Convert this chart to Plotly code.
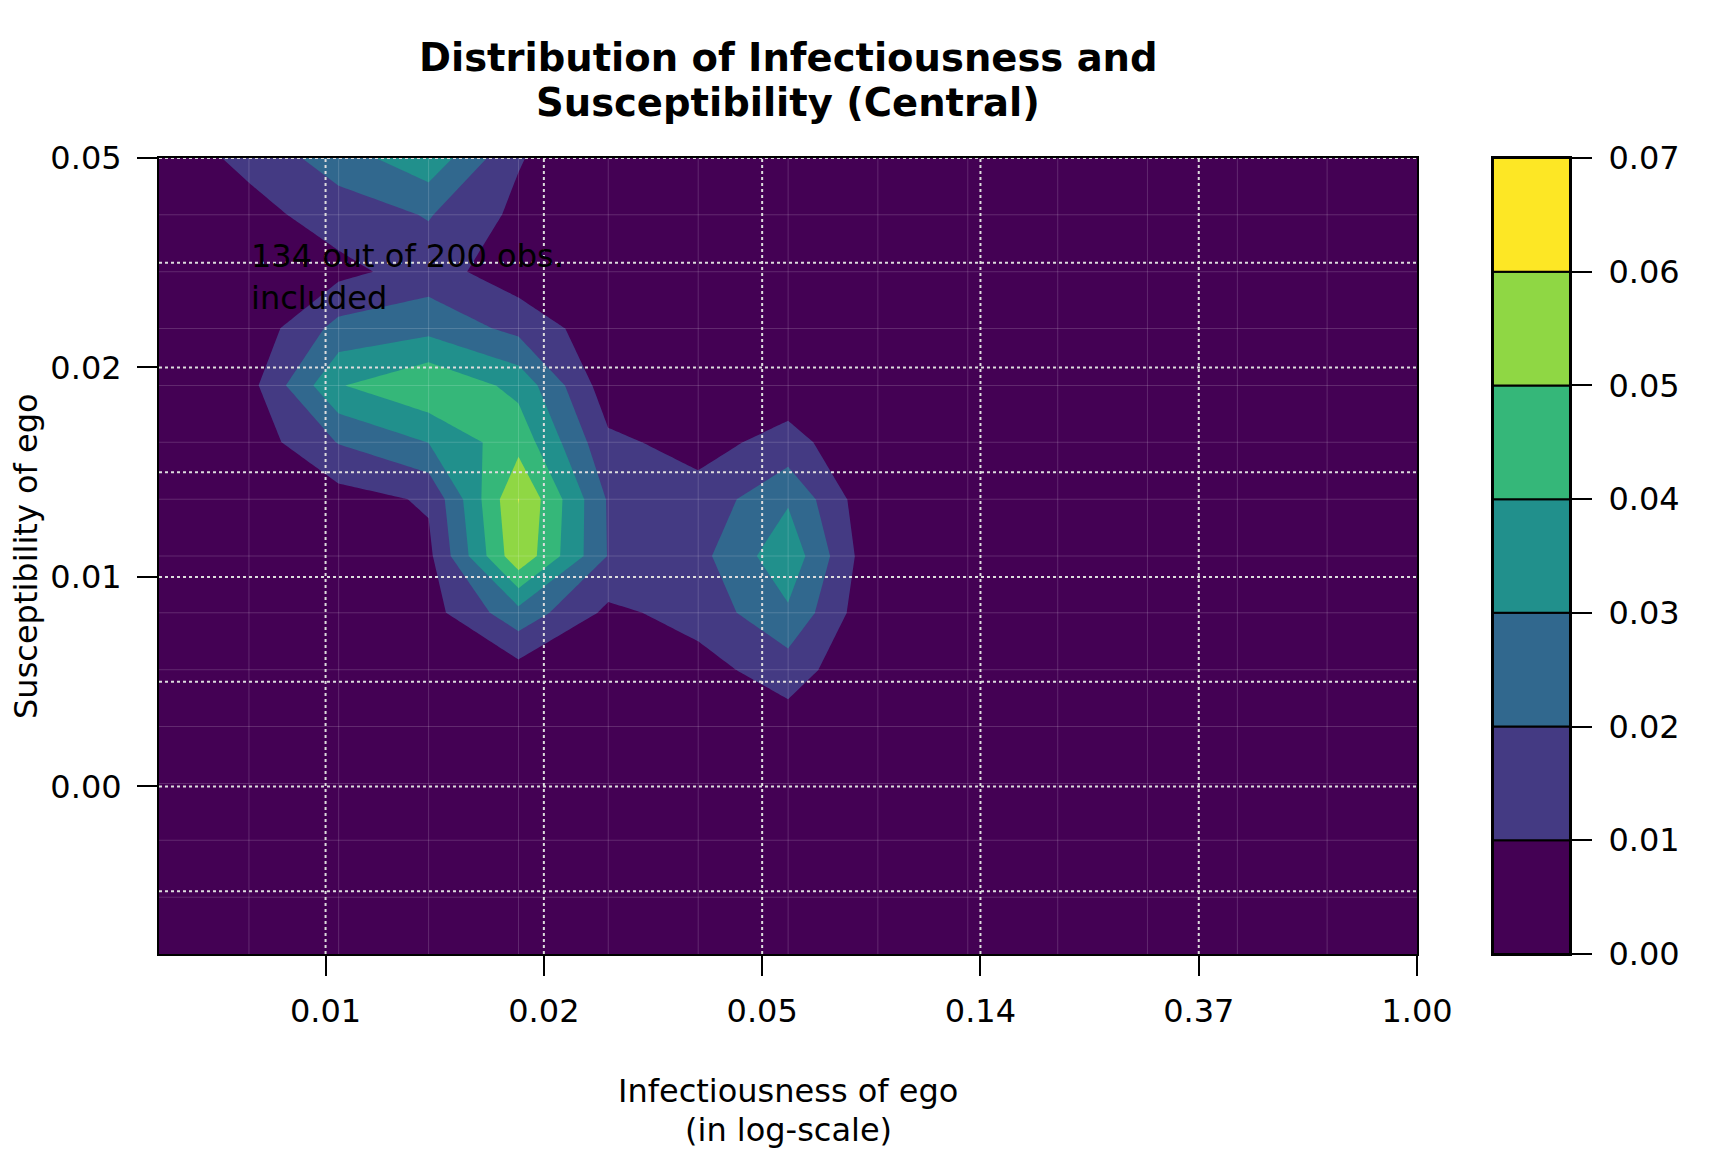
import plotly.graph_objects as go

# text
title_lines = ["Distribution of Infectiousness and", "Susceptibility (Central)"]
x_title_lines = ["Infectiousness of ego", "(in log-scale)"]
y_title = "Susceptibility of ego"
note_text = "134 out of 200 obs.<br>included"
note_pos = (-5.351, -3.568)

# log(infectiousness) grid, left to right
x_grid = [-5.763, -5.351, -4.940, -4.528, -4.116, -3.705, -3.293, -2.881,
          -2.470, -2.058, -1.646, -1.235, -0.823, -0.412, 0.0]
# log(susceptibility) grid, top to bottom
y_grid = [-3.0, -3.271, -3.543, -3.814, -4.086, -4.357, -4.629, -4.900,
          -5.171, -5.443, -5.714, -5.986, -6.257, -6.529, -6.800]

# estimated density, one row per y_grid value (top to bottom)
density = [
    [0.0037, 0.0127, 0.0251, 0.0370, 0.0108, 0.0000, 0.0000, 0.0000, 0, 0, 0, 0, 0, 0, 0],
    [0.0010, 0.0065, 0.0147, 0.0207, 0.0076, 0.0010, 0.0000, 0.0000, 0, 0, 0, 0, 0, 0, 0],
    [0.0005, 0.0030, 0.0072, 0.0145, 0.0040, 0.0005, 0.0000, 0.0000, 0, 0, 0, 0, 0, 0, 0],
    [0.0005, 0.0028, 0.0234, 0.0270, 0.0172, 0.0034, 0.0010, 0.0000, 0, 0, 0, 0, 0, 0, 0],
    [0.0010, 0.0064, 0.0393, 0.0490, 0.0370, 0.0042, 0.0015, 0.0044, 0.0005, 0, 0, 0, 0, 0, 0],
    [0.0005, 0.0040, 0.0205, 0.0302, 0.0465, 0.0120, 0.0067, 0.0134, 0.0013, 0, 0, 0, 0, 0, 0],
    [0.0000, 0.0010, 0.0060, 0.0112, 0.0602, 0.0190, 0.0134, 0.0288, 0.0003, 0, 0, 0, 0, 0, 0],
    [0.0000, 0.0005, 0.0020, 0.0076, 0.0578, 0.0195, 0.0169, 0.0370, 0.0007, 0, 0, 0, 0, 0, 0],
    [0.0000, 0.0000, 0.0010, 0.0060, 0.0265, 0.0078, 0.0136, 0.0285, 0.0002, 0, 0, 0, 0, 0, 0],
    [0.0000, 0.0000, 0.0005, 0.0020, 0.0064, 0.0030, 0.0064, 0.0150, 0.0003, 0, 0, 0, 0, 0, 0],
    [0.0000, 0.0000, 0.0000, 0.0000, 0.0010, 0.0005, 0.0020, 0.0054, 0.0002, 0, 0, 0, 0, 0, 0],
    [0, 0, 0, 0, 0, 0, 0, 0, 0, 0, 0, 0, 0, 0, 0],
    [0, 0, 0, 0, 0, 0, 0, 0, 0, 0, 0, 0, 0, 0, 0],
    [0, 0, 0, 0, 0, 0, 0, 0, 0, 0, 0, 0, 0, 0, 0],
    [0, 0, 0, 0, 0, 0, 0, 0, 0, 0, 0, 0, 0, 0, 0],
]

x_ticks = [-5, -4, -3, -2, -1, 0]
x_ticklabels = ["0.01", "0.02", "0.05", "0.14", "0.37", "1.00"]
y_ticks = [-6, -5, -4, -3]
y_ticklabels = ["0.00", "0.01", "0.02", "0.05"]
x_gridlines = [-5, -4, -3, -2, -1]
y_gridlines = [-6.5, -6.0, -5.5, -5.0, -4.5, -4.0, -3.5, -3.0]

levels = [0.00, 0.01, 0.02, 0.03, 0.04, 0.05, 0.06, 0.07]
level_labels = ["0.00", "0.01", "0.02", "0.03", "0.04", "0.05", "0.06", "0.07"]
band_colors = ["#440154", "#443A83", "#31688E", "#21908C", "#35B779", "#8FD744", "#FDE725"]

FONT = "DejaVu Sans"
TXT = 32

colorscale = [[k / (len(band_colors) - 1), c] for k, c in enumerate(band_colors)]

fig = go.Figure()

fig.add_trace(go.Contour(
    x=x_grid, y=y_grid[::-1], z=density[::-1],
    colorscale=colorscale, autocontour=False,
    contours=dict(start=levels[1], end=levels[-2], size=levels[1] - levels[0],
                  coloring="fill", showlines=False),
    line=dict(width=0, smoothing=0),
    showscale=False, hoverinfo="skip",
))

# key as stacked bars
fig.add_trace(go.Bar(
    x=[0] * len(band_colors),
    y=[levels[k + 1] - levels[k] for k in range(len(band_colors))],
    base=levels[:-1], width=1,
    marker=dict(color=band_colors, line=dict(color="black", width=2)),
    xaxis="x2", yaxis="y2", showlegend=False, hoverinfo="skip",
))

shapes = []
# faint cell edges of the filled polygons
for xv in x_grid[1:-1]:
    shapes.append(dict(type="line", xref="x", yref="y", x0=xv, x1=xv, y0=y_grid[-1], y1=y_grid[0],
                       line=dict(color="rgba(255,255,255,0.16)", width=1), layer="above"))
for yv in y_grid[1:-1]:
    shapes.append(dict(type="line", xref="x", yref="y", x0=x_grid[0], x1=x_grid[-1], y0=yv, y1=yv,
                       line=dict(color="rgba(255,255,255,0.16)", width=1), layer="above"))
# dotted grid
for xv in x_gridlines:
    shapes.append(dict(type="line", xref="x", yref="y", x0=xv, x1=xv, y0=y_grid[-1], y1=y_grid[0],
                       line=dict(color="#DDDDDD", width=2, dash="dot"), layer="above"))
for yv in y_gridlines:
    shapes.append(dict(type="line", xref="x", yref="y", x0=x_grid[0], x1=x_grid[-1], y0=yv, y1=yv,
                       line=dict(color="#DDDDDD", width=2, dash="dot"), layer="above"))

annotations = [
    dict(text="<b>%s</b>" % title_lines[0], xref="x domain", yref="y domain", x=0.5, y=1.1265,
         xanchor="center", yanchor="middle", showarrow=False, font=dict(size=38.5)),
    dict(text="<b>%s</b>" % title_lines[1], xref="x domain", yref="y domain", x=0.5, y=1.0697,
         xanchor="center", yanchor="middle", showarrow=False, font=dict(size=38.5)),
    dict(text=x_title_lines[0], xref="x domain", yref="y domain", x=0.5, y=-0.1727,
         xanchor="center", yanchor="middle", showarrow=False, font=dict(size=TXT)),
    dict(text=x_title_lines[1], xref="x domain", yref="y domain", x=0.5, y=-0.2211,
         xanchor="center", yanchor="middle", showarrow=False, font=dict(size=TXT)),
    dict(text=y_title, xref="paper", yref="y domain", x=-0.0943, y=0.5, textangle=-90,
         xanchor="center", yanchor="middle", showarrow=False, font=dict(size=TXT)),
    dict(text=note_text, xref="x", yref="y", x=note_pos[0], y=note_pos[1], align="left",
         xanchor="left", yanchor="middle", showarrow=False, font=dict(size=TXT)),
]

# page body adds an 8px offset, so the figure is 8px smaller each way
fig.update_layout(
    width=1720, height=1144,
    margin=dict(l=151, r=158, t=150, b=198),
    paper_bgcolor="white", plot_bgcolor="white",
    font=dict(family=FONT, color="black", size=TXT),
    shapes=shapes, annotations=annotations,
    xaxis=dict(domain=[0, 0.8916], range=[x_grid[0], x_grid[-1]], tickvals=x_ticks,
               ticktext=x_ticklabels, ticks="outside", ticklen=20, tickwidth=2, tickcolor="black",
               showline=True, mirror=True, linecolor="black", linewidth=2, showgrid=False,
               zeroline=False, ticklabelstandoff=8, tickfont=dict(size=TXT)),
    yaxis=dict(range=[y_grid[-1], y_grid[0]], tickvals=y_ticks, ticktext=y_ticklabels,
               ticks="outside", ticklen=20, tickwidth=2, tickcolor="black",
               showline=True, mirror=True, linecolor="black", linewidth=2, showgrid=False,
               zeroline=False, ticklabelstandoff=9, tickfont=dict(size=TXT)),
    xaxis2=dict(domain=[0.9454, 1.0], anchor="y2", range=[-0.5, 0.5], showticklabels=False,
                showgrid=False, zeroline=False, showline=True, mirror=True,
                linecolor="black", linewidth=2),
    yaxis2=dict(anchor="x2", side="right", range=[levels[0], levels[-1]], tickvals=levels,
                ticktext=level_labels, ticks="outside", ticklen=20, tickwidth=2,
                tickcolor="black", showgrid=False, zeroline=False, showline=True, mirror=True,
                linecolor="black", linewidth=2, ticklabelstandoff=10, tickfont=dict(size=TXT)),
)

fig.write_html("out.html")
